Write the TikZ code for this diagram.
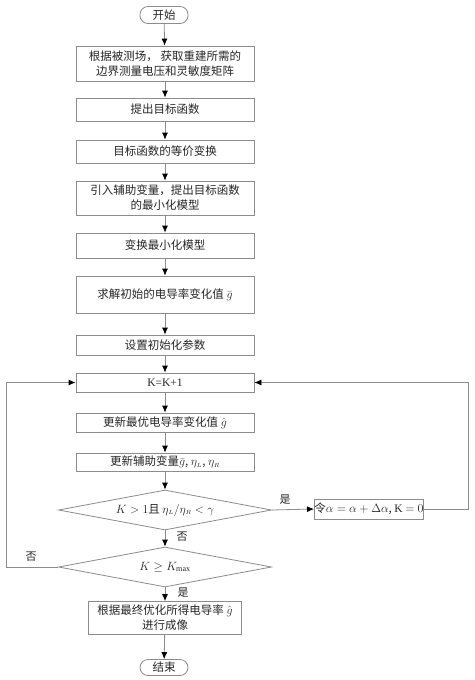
\documentclass[tikz,border=0pt]{standalone}
\usepackage{fontspec}
\setmainfont{Liberation Serif}
\newfontfamily\cjk{Noto Sans CJK SC}
\usetikzlibrary{shapes.geometric,arrows.meta}
\begin{document}
\begin{tikzpicture}[x=1pt,y=-1pt,
  every node/.style={font=\cjk\fontsize{11.5}{15}\selectfont, text=black!85},
  box/.style={draw=black!45, line width=0.8pt, rectangle, inner sep=0pt, align=center, minimum width=178pt},
  term/.style={draw=black!45, line width=0.8pt, rectangle, rounded corners=8pt, inner sep=0pt, minimum width=48pt, minimum height=17pt},
  dec/.style={draw=black!45, line width=0.8pt, diamond, shape aspect=5.3, inner sep=0pt, minimum width=213pt, minimum height=40pt},
  line/.style={draw=black!45, line width=0.8pt},
  arr/.style={line, -{Latex[length=7pt,width=6pt,color=black]}},
  lab/.style={font=\cjk\fontsize{11}{13}\selectfont}]
\fill[white] (0,0) rectangle (474,680);
\useasboundingbox (0,0) rectangle (474,680);

\node[term] (start) at (164,15) {开始};
\node[box, minimum height=35pt] (b1) at (165,63.5) {根据被测场， 获取重建所需的\\边界测量电压和灵敏度矩阵};
\node[box, minimum height=23pt] (b2) at (165,109.5) {提出目标函数};
\node[box, minimum height=23pt] (b3) at (165,151.5) {目标函数的等价变换};
\node[box, minimum height=34pt] (b4) at (165,198) {引入辅助变量，提出目标函数\\的最小化模型};
\node[box, minimum height=25pt] (b5) at (165,245.5) {变换最小化模型};
\node[box, minimum height=37pt] (b6) at (165,294.5) {求解初始的电导率变化值 $\bar{g}$};
\node[box, minimum height=20pt] (b7) at (165,345) {设置初始化参数};
\node[box, minimum height=19pt] (K) at (165,382.5) {\rmfamily K=K+1};
\node[box, minimum height=19pt] (b9) at (165,422.5) {更新最优电导率变化值 $\hat{g}$};
\node[box, minimum height=18pt] (b10) at (165,462) {更新辅助变量$\bar{g}$, $\eta_{\scriptscriptstyle L}$, $\eta_{\scriptscriptstyle R}$};
\node[dec] (d1) at (165,510) {$K>1$且 $\eta_{\scriptscriptstyle L}/\eta_{\scriptscriptstyle R}<\gamma$};
\node[draw=black!45, line width=0.8pt, rectangle, inner sep=0pt, minimum width=102pt, minimum height=20pt] (al) at (369,509) {令$\alpha=\alpha+\Delta\alpha$, {\rmfamily K} $=0$};
\node[dec] (d2) at (165,567) {$K\ge K_{\max}$};
\node[box, minimum width=153pt, minimum height=33pt] (fin) at (165,618) {根据最终优化所得电导率 $\hat{g}$\\进行成像};
\node[term, minimum height=16pt] (end) at (164,667.5) {结束};

\coordinate (lc) at (6,0);
\coordinate (rc) at (468,0);

\draw[arr] (start) -- (b1);
\draw[arr] (b1) -- (b2);
\draw[arr] (b2) -- (b3);
\draw[arr] (b3) -- (b4);
\draw[arr] (b4) -- (b5);
\draw[arr] (b5) -- (b6);
\draw[arr] (b6) -- (b7);
\draw[arr] (b7) -- (K);
\draw[arr] (K) -- (b9);
\draw[arr] (b9) -- (b10);
\draw[arr] (b10) -- (d1);
\draw[arr] (d1) -- (d2);
\draw[arr] (d2) -- (fin);
\draw[arr] (fin) -- (end);
\draw[arr] (d1.east) -- (al.west);
\draw[arr] (al.east) -- (al.east -| rc) |- (K.east);
\draw[arr] (d2.west) -- (d2.west -| lc) |- (K.west);

\node[lab] (y1) at (285,500) {是};
\node[lab] (n1) at (182,537) {否};
\node[lab] (n2) at (31,557) {否};
\node[lab] (y2) at (183,593) {是};
\end{tikzpicture}
\end{document}
